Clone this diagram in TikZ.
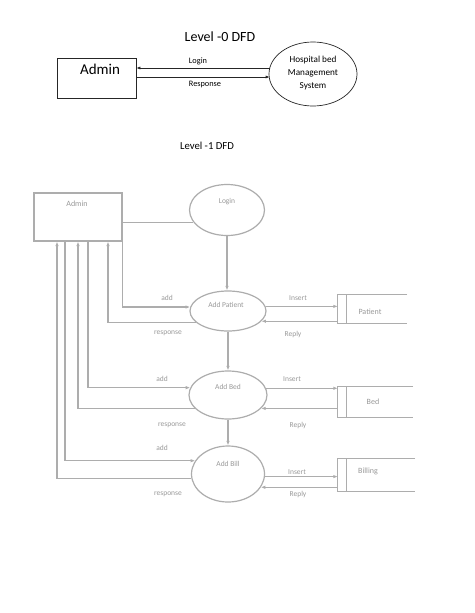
\documentclass[tikz,border=0pt]{standalone}
\usepackage{fontspec}
\setmainfont{Carlito}
\usetikzlibrary{shapes.geometric,arrows.meta}
\begin{document}
\begin{tikzpicture}[x=1pt,y=-1pt,
  zero/.style={draw=black!85,line width=0.7pt},
  zarr/.style={zero,-{Latex[length=4pt,width=3pt]}},
  one/.style={draw=black!32,line width=1.2pt},
  oarr/.style={one,-{Latex[length=4.5pt,width=3.5pt]}},
  otext/.style={text=black!40,font=\fontsize{7.5}{9}\selectfont,inner sep=0pt},
  oell/.style={one,ellipse,inner sep=0pt},
  store/.style={inner sep=0pt}]
\useasboundingbox[fill=white] (0,0) rectangle (474,613);
% ---------- Level 0 ----------
\node[font=\fontsize{14}{16}\selectfont] (t0) at (220,37) {Level -0 DFD};
\node[zero,minimum width=79pt,minimum height=40pt,inner sep=0pt] (adm0) at (96.5,78) {};
\node[font=\fontsize{15}{17}\selectfont,inner sep=0pt] (adm0t) at (100,69) {Admin};
\node[zero,ellipse,minimum width=88pt,minimum height=64pt,inner sep=0pt] (hbms) at (313,74) {};
\node[font=\fontsize{9.2}{13}\selectfont,align=center,inner sep=0pt] (hbmst) at (313,73) {Hospital bed\\Management\\System};
\coordinate (l0a) at (adm0.east |- 0,68);
\coordinate (l0b) at (adm0.east |- 0,77);
\draw[zarr] (hbms.west |- l0a) ++(1,0) -- (l0a);
\draw[zarr] (l0b) -- ([xshift=1]hbms.west |- l0b);
\node[font=\fontsize{8.3}{10}\selectfont,inner sep=0pt] (lg0) at (198,61) {Login};
\node[font=\fontsize{8.3}{10}\selectfont,inner sep=0pt] (rs0) at (205,85) {Response};
\node[font=\fontsize{10.7}{12}\selectfont] (t1) at (207,146) {Level -1 DFD};
% ---------- Level 1 ----------
\node[one,minimum width=88pt,minimum height=48pt,inner sep=0pt] (adm) at (78,217) {};
\node[otext,font=\fontsize{8}{9}\selectfont] (admt) at (77,204) {Admin};
\node[oell,minimum width=75pt,minimum height=51pt] (login) at (227,210) {};
\node[otext] (logint) at (227,202) {Login};
\node[oell,minimum width=76pt,minimum height=40pt] (addp) at (228,311) {};
\node[otext] (addpt) at (226,305) {Add Patient};
\node[oell,minimum width=78pt,minimum height=48pt] (addb) at (228,395) {};
\node[otext] (addbt) at (228,387) {Add Bed};
\node[oell,minimum width=73pt,minimum height=56pt] (addl) at (228,474) {};
\node[otext] (addlt) at (228,464) {Add Bill};
% data stores
\node[store,minimum width=69pt,minimum height=28pt] (sp) at (372.5,309) {};
\node[store,minimum width=75pt,minimum height=30pt] (sb) at (375.5,402) {};
\node[store,minimum width=77pt,minimum height=32pt] (sl) at (376.5,475) {};
\foreach \s in {sp,sb,sl}{
  \draw[one] (\s.north east) -- (\s.north west) -- (\s.south west) -- (\s.south east);
  \draw[one] ([xshift=9]\s.north west) -- ([xshift=9]\s.south west);
}
\node[otext,font=\fontsize{8}{9}\selectfont] (spt) at (370,312) {Patient};
\node[otext,font=\fontsize{8}{9}\selectfont] (sbt) at (373,402) {Bed};
\node[otext,font=\fontsize{8}{9}\selectfont] (slt) at (368,471) {Billing};
% admin - login
\draw[one] (adm.east |- login.200) -- (login.200);
% vertical chain
\draw[oarr] (login.south) -- (login.south |- addp.north);
\draw[oarr] (addp.south) -- (addb.north);
\draw[oarr] (addb.south) -- (addl.north);
% admin bottom points
\coordinate (b1) at (adm.south -| 57,0);
\coordinate (b2) at (adm.south -| 65,0);
\coordinate (b3) at (adm.south -| 78,0);
\coordinate (b4) at (adm.south -| 88,0);
\coordinate (b5) at (adm.south -| 108,0);
\coordinate (b6) at (adm.south east);
% add / response
\draw[oarr] (b6) |- (addp.174);
\draw[oarr] (addp.199) -| (b5);
\draw[oarr] (b4) |- (addb.169.4);
\draw[oarr] (addb.203.8) -| (b3);
\draw[oarr] (b2) |- (addl.158.1);
\draw[oarr] (addl.187.9) -| (b1);
% insert / reply
\draw[oarr] (addp.7.7) -- (addp.7.7 -| sp.west);
\draw[oarr] (sp.west |- addp.343.1) -- (addp.343.1);
\draw[oarr] (addb.10.6) -- (addb.10.6 -| sb.west);
\draw[oarr] (sb.west |- addb.338.4) -- (addb.338.4);
\draw[oarr] (addl.356.9) -- (addl.356.9 -| sl.west);
\draw[oarr] (sl.west |- addl.338.1) -- (addl.338.1);
% labels
\node[otext] (pa) at (167,298) {add};
\node[otext] (pr) at (168,333) {response};
\node[otext] (pi) at (298,298) {Insert};
\node[otext] (pp) at (293,334) {Reply};
\node[otext] (ba) at (162,379) {add};
\node[otext] (br) at (172,425) {response};
\node[otext] (bi) at (292,379) {Insert};
\node[otext] (bp) at (298,425) {Reply};
\node[otext] (la) at (162,448) {add};
\node[otext] (lr) at (168,494) {response};
\node[otext] (li) at (297,472) {Insert};
\node[otext] (lp) at (298,494) {Reply};
\end{tikzpicture}
\end{document}
